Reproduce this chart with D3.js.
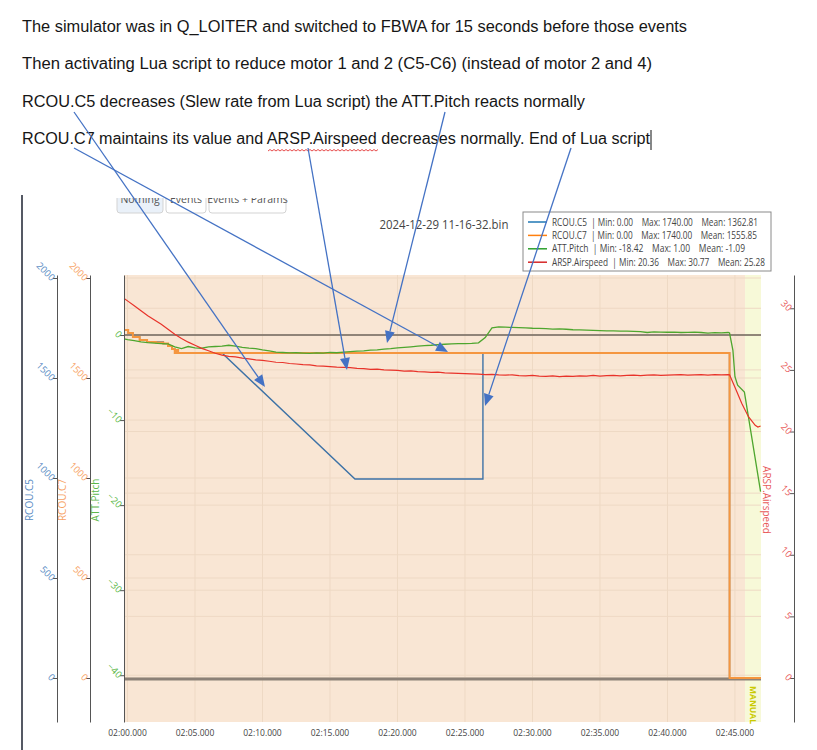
<!DOCTYPE html>
<html lang="en">
<head>
<meta charset="UTF-8">
<title>RCOU / ATT / ARSP log with notes</title>
<script src="https://d3js.org/d3.v7.min.js"></script>
<style>
  body { margin: 0; background: #fff; }
  svg text { font-family: "Open Sans", "Noto Sans", sans-serif; }
  .note { font-family: "Liberation Sans Narrow", "Liberation Sans", sans-serif; font-size: 16px; fill: #161616; }
  .legend text { white-space: pre; font-size: 10px; fill: #444; }
</style>
</head>
<body>
<script>
// notes typed above the screenshot
const NOTES = [
  "The simulator was in Q_LOITER and switched to FBWA for 15 seconds before those events",
  "Then activating Lua script to reduce motor 1 and 2 (C5-C6) (instead of motor 2 and 4)",
  "RCOU.C5 decreases (Slew rate from Lua script) the ATT.Pitch reacts normally",
  "RCOU.C7 maintains its value and ARSP.Airspeed decreases normally. End of Lua script"
];

// time = seconds after 02:00.000
const X_TICKS = [0, 5, 10, 15, 20, 25, 30, 35, 40, 45];
const X_TICK_LABELS = ["02:00.000", "02:05.000", "02:10.000", "02:15.000", "02:20.000",
  "02:25.000", "02:30.000", "02:35.000", "02:40.000", "02:45.000"];

const RC_TICKS = [0, 500, 1000, 1500, 2000];
const PITCH_TICKS = [-40, -30, -20, -10, 0];
const AIR_TICKS = [0, 5, 10, 15, 20, 25, 30];

const SERIES_NAMES = ["RCOU.C5", "RCOU.C7", "ATT.Pitch", "ARSP.Airspeed"];
const SERIES_MIN = ["0.00", "0.00", "-18.42", "20.36"];
const SERIES_MAX = ["1740.00", "1740.00", "1.00", "30.77"];
const SERIES_MEAN = ["1362.81", "1555.85", "-1.09", "25.28"];

// flight modes
const MODE_NAMES = ["FBWA", "MANUAL"];
const MODE_START = [-0.26, 45.75];
const MODE_END = [45.75, 46.93];

// RCOU.C5
const C5_T = [-0.25, 0.05, 0.05, 0.4, 0.4, 0.9, 0.9, 1.45, 1.45, 2.65, 2.65, 3.0, 3.0, 3.3, 3.3, 3.5, 3.5,
  7.0, 16.85, 26.33, 26.33, 44.6, 44.6, 46.93];
const C5_V = [1740, 1740, 1725, 1725, 1705, 1705, 1690, 1690, 1680, 1680, 1672, 1672, 1660, 1660, 1645, 1645, 1625,
  1625, 995, 995, 1625, 1625, 0, 0];

// RCOU.C7 (step)
const C7_T = [-0.25, 0.05, 0.4, 0.9, 1.45, 2.1, 2.65, 3.0, 3.3, 3.5, 3.65, 3.75, 44.6, 46.93];
const C7_V = [1740, 1725, 1705, 1690, 1680, 1678, 1672, 1660, 1645, 1625, 1640, 1625, 0, 0];

// sampled series
const TIME = [-0.25, 0, 0.5, 1, 1.5, 2, 2.5, 3, 3.5, 4, 4.5, 5, 5.5, 6, 6.5, 7, 7.5, 8, 8.5, 9, 9.5,
  10, 10.5, 11, 11.5, 12, 12.5, 13, 13.5, 14, 14.5, 15, 15.5, 16, 16.5, 17, 17.5, 18, 18.5, 19, 19.5,
  20, 20.5, 21, 21.5, 22, 22.5, 23, 23.5, 24, 24.5, 25, 25.5, 26, 26.5, 27, 27.5, 28, 28.5, 29, 29.5,
  30, 30.5, 31, 31.5, 32, 32.5, 33, 33.5, 34, 34.5, 35, 35.5, 36, 36.5, 37, 37.5, 38, 38.5, 39, 39.5,
  40, 40.5, 41, 41.5, 42, 42.5, 43, 43.5, 44, 44.5];

const PITCH_V = [-0.45, -0.55, -0.65, -0.8, -0.9, -0.95, -1.0, -1.05, -1.4, -1.6,
  -1.35, -1.5, -1.55, -1.4, -1.35, -1.3, -1.2, -1.3, -1.45, -1.55,
  -1.6, -1.75, -1.85, -2.0, -2.05, -2.1, -2.08, -2.12, -2.15, -2.1,
  -2.12, -2.05, -2.08, -2.0, -1.95, -1.9, -1.85, -1.78, -1.75, -1.65,
  -1.6, -1.52, -1.45, -1.38, -1.3, -1.25, -1.2, -1.12, -1.08, -1.05,
  -1.02, -1.0, -0.98, -0.92, -0.3, 0.85, 0.95, 0.92, 0.9, 0.88,
  0.85, 0.8, 0.78, 0.75, 0.7, 0.72, 0.68, 0.62, 0.6, 0.58,
  0.55, 0.52, 0.5, 0.5, 0.47, 0.45, 0.42, 0.4, 0.3, 0.38,
  0.35, 0.33, 0.35, 0.3, 0.32, 0.35, 0.3, 0.22, 0.28, 0.26,
  0.3];
const PITCH_TAIL_T = [44.6, 44.85, 45.0, 45.2, 45.7, 46.9];
const PITCH_TAIL_V = [0.24, -1.8, -4.9, -5.9, -6.7, -18.42];

const AIR_V = [30.8, 30.6, 30.2, 29.8, 29.4, 29.05, 28.7, 28.3, 27.9, 27.55,
  27.25, 27.0, 26.75, 26.55, 26.35, 26.2, 26.1, 26.05, 25.95, 25.9,
  25.82, 25.78, 25.7, 25.62, 25.6, 25.52, 25.48, 25.42, 25.4, 25.33,
  25.3, 25.26, 25.22, 25.2, 25.18, 25.12, 25.1, 25.05, 25.06, 25.0,
  24.98, 24.96, 24.9, 24.92, 24.86, 24.84, 24.8, 24.82, 24.76, 24.74,
  24.72, 24.7, 24.68, 24.66, 24.62, 24.64, 24.6, 24.58, 24.6, 24.54,
  24.52, 24.55, 24.5, 24.48, 24.52, 24.46, 24.5, 24.47, 24.52, 24.49,
  24.55, 24.5, 24.53, 24.56, 24.52, 24.55, 24.58, 24.54, 24.57, 24.6,
  24.56, 24.58, 24.6, 24.62, 24.58, 24.6, 24.62, 24.58, 24.61, 24.6,
  24.62];
const AIR_TAIL_T = [44.6, 45.0, 45.5, 46.0, 46.5, 46.7, 46.9];
const AIR_TAIL_V = [24.6, 23.6, 22.3, 21.2, 20.5, 20.36, 20.45];

// ---- layout ----
const W = 817, H = 750;
const plot = {left: 124, right: 761, top: 275, bottom: 722};
const colors = {c5: "#3d72a6", c7: "#f5963f", pitch: "#4ea62e", air: "#e8332a"};
const labelColors = {c5: "#5a8cc4", c7: "#f7a264", pitch: "#5cb84a", air: "#e85a5a"};

const svg = d3.select("body").append("svg")
    .attr("width", W)
    .attr("height", H);

// notes
const noteWidths = [665, 630, 563, 628];
const noteBase = [32, 69, 107, 144];
NOTES.forEach((t, i) => {
    svg.append("text")
        .attr("class", "note")
        .attr("x", 22)
        .attr("y", noteBase[i])
        .attr("textLength", noteWidths[i])
        .attr("lengthAdjust", "spacingAndGlyphs")
        .text(t);
});
// spell-check squiggle under ARSP.Airspeed + text cursor
let sq = "M268,151";
for (let xx = 268; xx < 378; xx += 2) sq += `L${xx + 2},${((xx - 268) / 2) % 2 ? 151 : 149.5}`;
svg.append("path").attr("d", sq).attr("fill", "none").attr("stroke", "#e02020").attr("stroke-width", 0.8);
svg.append("line").attr("x1", 651).attr("x2", 651).attr("y1", 130).attr("y2", 150)
    .attr("stroke", "#111").attr("stroke-width", 1);

// page edge line
svg.append("line").attr("x1", 22).attr("x2", 22).attr("y1", 195).attr("y2", H)
    .attr("stroke", "#1c2230").attr("stroke-width", 1.5);

// cut-off buttons at the top of the screenshot
svg.append("clipPath").attr("id", "btnclip")
    .append("rect").attr("x", 0).attr("y", 198).attr("width", W).attr("height", 30);
const btns = svg.append("g").attr("clip-path", "url(#btnclip)");
[["Nothing", 117, 46, "#eaf1f9"], ["Events", 166, 40, "#fff"], ["Events + Params", 209, 77, "#fff"]]
    .forEach(([label, bx, bw, fill]) => {
        btns.append("rect").attr("x", bx).attr("y", 182).attr("width", bw).attr("height", 31)
            .attr("rx", 3).attr("fill", fill).attr("stroke", "#d3d3d3");
        btns.append("text").attr("x", bx + bw / 2).attr("y", 203).attr("text-anchor", "middle")
            .attr("font-size", 10.5).attr("fill", "#555").text(label);
    });

// scales
const x = d3.scaleLinear().domain([-0.26, 46.93]).range([plot.left, plot.right]);
const yRc = d3.scaleLinear().domain([-220, 2015]).range([plot.bottom, plot.top]);
const yPitch = d3.scaleLinear().domain([-45.5, 7.06]).range([plot.bottom, plot.top]);
const yAir = d3.scaleLinear().domain([-3.57, 32.7]).range([plot.bottom, plot.top]);

// title
svg.append("text").attr("x", 444).attr("y", 229).attr("text-anchor", "middle")
    .attr("font-size", 12).attr("fill", "#444")
    .attr("textLength", 129).attr("lengthAdjust", "spacingAndGlyphs")
    .text("2024-12-29 11-16-32.bin");

// mode bands
const modeFill = ["#f9e6d4", "#f7f9d8"];
MODE_NAMES.forEach((m, i) => {
    svg.append("rect")
        .attr("x", x(MODE_START[i]))
        .attr("y", plot.top)
        .attr("width", x(MODE_END[i]) - x(MODE_START[i]))
        .attr("height", plot.bottom - plot.top)
        .attr("fill", modeFill[i]);
});

// grid
const grid = svg.append("g").attr("stroke", "#eed9c4").attr("stroke-width", 1);
X_TICKS.forEach(t => grid.append("line").attr("x1", x(t)).attr("x2", x(t))
    .attr("y1", plot.top).attr("y2", plot.bottom));
RC_TICKS.forEach(v => grid.append("line").attr("x1", plot.left).attr("x2", plot.right)
    .attr("y1", yRc(v)).attr("y2", yRc(v)));
PITCH_TICKS.forEach(v => grid.append("line").attr("x1", plot.left).attr("x2", plot.right)
    .attr("y1", yPitch(v)).attr("y2", yPitch(v)));
AIR_TICKS.forEach(v => grid.append("line").attr("x1", plot.left).attr("x2", plot.right)
    .attr("y1", yAir(v)).attr("y2", yAir(v)));

// zero lines
svg.append("line").attr("x1", plot.left).attr("x2", plot.right)
    .attr("y1", yPitch(0)).attr("y2", yPitch(0))
    .attr("stroke", "#6f665d").attr("stroke-width", 1.5);
svg.append("line").attr("x1", plot.left).attr("x2", plot.right)
    .attr("y1", yRc(0) + 1).attr("y2", yRc(0) + 1)
    .attr("stroke", "#8c8177").attr("stroke-width", 3);

// "MANUAL" mode label
svg.append("text")
    .attr("transform", `translate(${(x(MODE_START[1]) + x(MODE_END[1])) / 2 - 3},705) rotate(90)`)
    .attr("text-anchor", "middle")
    .attr("font-size", 8.5).attr("font-weight", "bold").attr("fill", "#c9c900")
    .text(MODE_NAMES[1]);

// series
const lineGen = (ys, curve) => d3.line().x(d => x(d[0])).y(d => ys(d[1])).curve(curve || d3.curveLinear);
const zip = (ts, vs) => ts.map((t, i) => [t, vs[i]]);

svg.append("path").datum(zip(C5_T, C5_V))
    .attr("d", lineGen(yRc))
    .attr("fill", "none").attr("stroke", colors.c5).attr("stroke-width", 1.4);
svg.append("path").datum(zip(C7_T, C7_V))
    .attr("d", lineGen(yRc, d3.curveStepAfter))
    .attr("fill", "none").attr("stroke", colors.c7).attr("stroke-width", 2);
svg.append("path").datum(zip(TIME, PITCH_V).concat(zip(PITCH_TAIL_T, PITCH_TAIL_V)))
    .attr("d", lineGen(yPitch))
    .attr("fill", "none").attr("stroke", colors.pitch).attr("stroke-width", 1.3);
svg.append("path").datum(zip(TIME, AIR_V).concat(zip(AIR_TAIL_T, AIR_TAIL_V)))
    .attr("d", lineGen(yAir))
    .attr("fill", "none").attr("stroke", colors.air).attr("stroke-width", 1.2);

// axes
function yAxis(scale, ticks, xPos, key, title, titleX, titleRot) {
    const g = svg.append("g")
        .attr("transform", `translate(${xPos},0)`)
        .call(d3.axisLeft(scale).tickValues(ticks).tickFormat(d3.format("d")).tickSize(4).tickSizeOuter(0));
    g.select(".domain").attr("stroke", "#555");
    g.selectAll(".tick line").attr("stroke", "#555");
    g.selectAll(".tick text")
        .attr("x", null).attr("dy", null)
        .attr("transform", "translate(-6,3) rotate(45)")
        .attr("font-size", 9.5)
        .attr("fill", labelColors[key]);
    svg.append("text")
        .attr("transform", `translate(${titleX},500) rotate(${titleRot})`)
        .attr("text-anchor", "middle")
        .attr("dy", "0.35em")
        .attr("font-size", 10)
        .attr("fill", labelColors[key])
        .text(title);
}
yAxis(yRc, RC_TICKS, 57, "c5", SERIES_NAMES[0], 29, -90);
yAxis(yRc, RC_TICKS, 90, "c7", SERIES_NAMES[1], 62, -90);
yAxis(yPitch, PITCH_TICKS, 124, "pitch", SERIES_NAMES[2], 95, -90);
yAxis(yAir, AIR_TICKS, 794, "air", SERIES_NAMES[3], 766, 90);

// x axis labels
X_TICKS.forEach((t, i) => {
    svg.append("text")
        .attr("x", x(t)).attr("y", 736)
        .attr("text-anchor", "middle")
        .attr("font-size", 8.5).attr("fill", "#444")
        .text(X_TICK_LABELS[i]);
});

// legend
const legend = svg.append("g").attr("class", "legend");
legend.append("rect").attr("x", 523).attr("y", 212).attr("width", 248).attr("height", 59)
    .attr("fill", "#fff").attr("stroke", "#8a8a8a");
const legColors = ["#1f77b4", "#ff7f0e", "#2ca02c", "#d62728"];
const legWidths = [206, 205, 193, 213];
SERIES_NAMES.forEach((name, i) => {
    const ly = 222 + i * 13.4;
    legend.append("line").attr("x1", 528).attr("x2", 547).attr("y1", ly).attr("y2", ly)
        .attr("stroke", legColors[i]).attr("stroke-width", 1.5);
    legend.append("text")
        .attr("x", 552).attr("y", ly).attr("dy", "0.35em")
        .attr("textLength", legWidths[i]).attr("lengthAdjust", "spacingAndGlyphs")
        .text(`${name}  | Min: ${SERIES_MIN[i]}    Max: ${SERIES_MAX[i]}    Mean: ${SERIES_MEAN[i]}`);
});

// annotation arrows drawn over the screenshot (start -> tip, pixels)
const ARROWS = [[74, 112, 265, 387], [74, 148, 448, 352], [308, 148, 347, 370],
  [445, 112, 387, 343], [571, 148, 485, 406]];
const arrowColor = "#4472c4";
ARROWS.forEach(([x1, y1, x2, y2]) => {
    const a = Math.atan2(y2 - y1, x2 - x1);
    const len = 12, half = 5;
    const bx = x2 - len * Math.cos(a), by = y2 - len * Math.sin(a);
    svg.append("line").attr("x1", x1).attr("y1", y1).attr("x2", bx).attr("y2", by)
        .attr("stroke", arrowColor).attr("stroke-width", 1.3);
    const p1 = [bx + half * Math.sin(a), by - half * Math.cos(a)];
    const p2 = [bx - half * Math.sin(a), by + half * Math.cos(a)];
    svg.append("polygon")
        .attr("points", `${x2},${y2} ${p1.join(",")} ${p2.join(",")}`)
        .attr("fill", arrowColor);
});
</script>
</body>
</html>
